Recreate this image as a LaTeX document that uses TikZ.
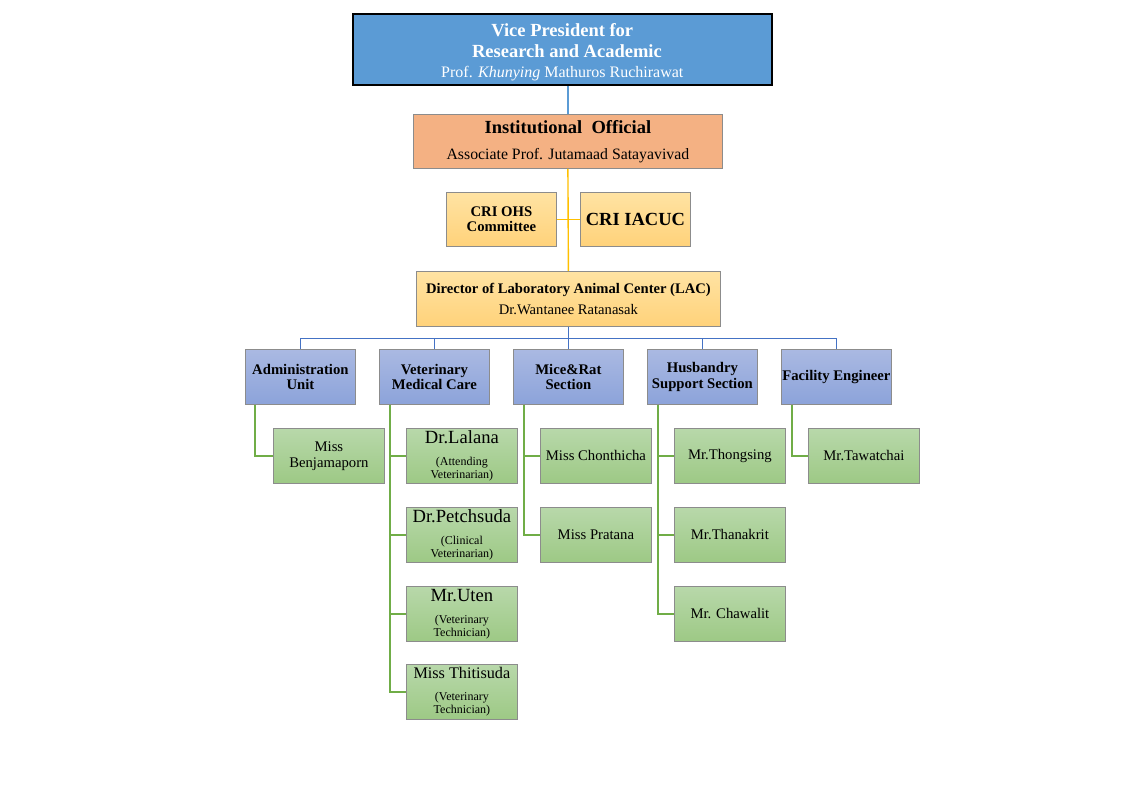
\documentclass[tikz,border=0pt]{standalone}
\usepackage{fontspec}
\setmainfont{Liberation Serif}
\definecolor{vpblue}{HTML}{5B9BD5}
\definecolor{iosal}{HTML}{F4B183}
\definecolor{ytop}{HTML}{FFE3A3}
\definecolor{ybot}{HTML}{FFD27A}
\definecolor{btop}{HTML}{AAB9E2}
\definecolor{bbot}{HTML}{8CA3DA}
\definecolor{gtop}{HTML}{B8D8AA}
\definecolor{gbot}{HTML}{9DC985}
\definecolor{lblue}{HTML}{4472C4}
\definecolor{lgreen}{HTML}{70AD47}
\definecolor{lyellow}{HTML}{FFC000}
\definecolor{bord}{HTML}{8C8C8C}
\newcommand{\fs}[2]{\fontsize{#1}{#2}\selectfont}
\begin{document}
\begin{tikzpicture}[x=1pt,y=-1pt,
  box/.style={draw=bord,line width=0.8pt,inner sep=0pt,align=center,anchor=north west},
  yelbox/.style={box,top color=ytop,bottom color=ybot},
  secbox/.style={box,top color=btop,bottom color=bbot,minimum width=110pt,minimum height=55pt,font=\fs{14.7}{15.5}\bfseries},
  grnbox/.style={box,top color=gtop,bottom color=gbot,minimum width=111pt,minimum height=55pt,font=\fs{14.7}{16}},
  subbox/.style={grnbox,font=\fs{12}{13}},
  bline/.style={draw=lblue,line width=1.2pt},
  gline/.style={draw=lgreen,line width=1.4pt},
  yline/.style={draw=lyellow,line width=1.4pt}]
\useasboundingbox (0,0) rectangle (1123,794);
\fill[white] (0,0) rectangle (1123,794);

\node[box,draw=black,line width=1.6pt,fill=vpblue,text=white,minimum width=419pt,minimum height=71pt,font=\fs{18.5}{20.5}\bfseries] (vp) at (352,13)
 {\rule{0pt}{4pt}\\[-6pt]Vice President for\\\ \ Research and Academic\\[-0.5pt]{\fs{16}{17}\mdseries Prof. \textit{Khunying} Mathuros Ruchirawat}};
\node[box,fill=iosal,minimum width=309pt,minimum height=54pt,font=\fs{15.8}{17}] (io) at (413,114)
 {{\fs{18.5}{20}\bfseries Institutional\ \ Official}\\[9pt]Associate Prof. Jutamaad Satayavivad};
\node[yelbox,minimum width=110pt,minimum height=54pt,font=\fs{14.7}{15.5}\bfseries] (ohs) at (446,192)
 {CRI OHS\\Committee};
\node[yelbox,minimum width=110pt,minimum height=54pt,font=\fs{18.5}{20}\bfseries] (iacuc) at (580,192)
 {CRI IACUC};
\node[yelbox,minimum width=304pt,minimum height=55pt,font=\fs{14.6}{16}] (dir) at (416,271)
 {{\bfseries Director of Laboratory Animal Center (LAC)}\\[5pt]Dr.Wantanee Ratanasak};

\node[secbox] (adm) at (245,349) {Administration\\Unit};
\node[secbox] (vet) at (379,349) {Veterinary\\Medical Care};
\node[secbox] (mice) at (513,349) {Mice\&Rat\\Section};
\node[secbox] (hus) at (647,349) {Husbandry\\Support Section};
\node[secbox] (fac) at (781,349) {Facility Engineer};

\node[grnbox] (benj) at (273,428) {Miss\\Benjamaporn};
\node[subbox] (lal) at (406,428) {{\fs{18.6}{20}Dr.Lalana}\\[9pt](Attending\\Veterinarian)};
\node[subbox] (pet) at (406,507) {{\fs{18.6}{20}Dr.Petchsuda}\\[9pt](Clinical\\Veterinarian)};
\node[subbox] (uten) at (406,586) {{\fs{18.6}{20}Mr.Uten}\\[9pt](Veterinary\\Technician)};
\node[subbox] (thi) at (406,664) {{\fs{16.2}{18}Miss Thitisuda}\\[9pt](Veterinary\\Technician)};
\node[grnbox] (chon) at (540,428) {Miss Chonthicha};
\node[grnbox] (pra) at (540,507) {Miss Pratana};
\node[grnbox] (thong) at (674,428) {Mr.Thongsing};
\node[grnbox] (than) at (674,507) {Mr.Thanakrit};
\node[grnbox] (cha) at (674,586) {Mr. Chawalit};
\node[grnbox] (taw) at (808,428) {Mr.Tawatchai};

\draw[draw=vpblue,line width=1.2pt] (io.north) -- (io.north |- vp.south);
\draw[yline] (io.south) -- (dir.north);
\draw[yline] (ohs.east) -- (iacuc.west);
\foreach \s in {adm,vet,mice,hus,fac}
  \draw[bline] (dir.south) -- ++(0,12) -| (\s.north);
\draw[gline] ([xshift=10pt]adm.south west) |- (benj.west);
\foreach \c in {lal,pet,uten,thi}
  \draw[gline] ([xshift=11pt]vet.south west) |- (\c.west);
\foreach \c in {chon,pra}
  \draw[gline] ([xshift=11pt]mice.south west) |- (\c.west);
\foreach \c in {thong,than,cha}
  \draw[gline] ([xshift=11pt]hus.south west) |- (\c.west);
\draw[gline] ([xshift=11pt]fac.south west) |- (taw.west);
\end{tikzpicture}
\end{document}
